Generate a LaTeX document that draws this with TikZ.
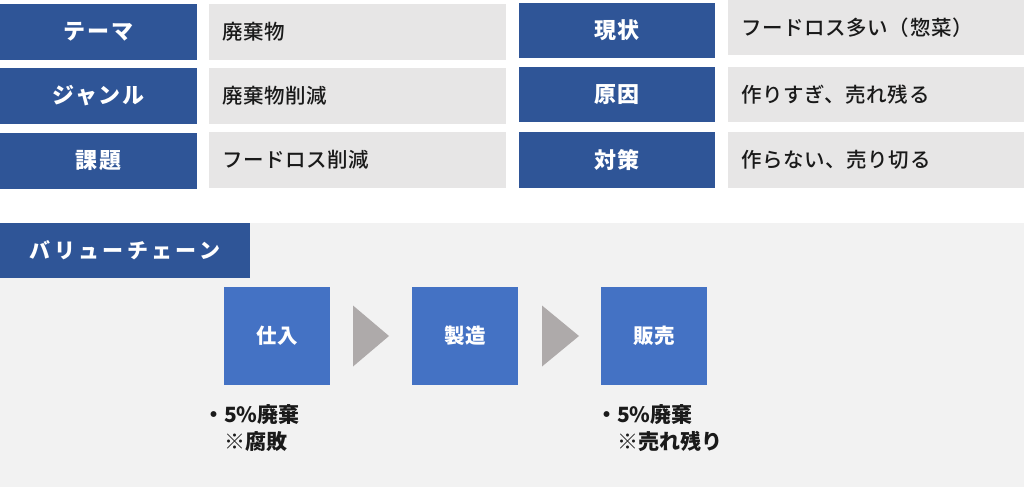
\documentclass[tikz,border=0pt]{standalone}
\usepackage{fontspec}
\setmainfont{Noto Sans CJK JP}
\newfontfamily\medfont{Noto Sans CJK JP}[UprightFont={* Medium}]
\usetikzlibrary{calc}
\definecolor{hdrblue}{HTML}{2F5597}
\definecolor{valgray}{HTML}{E7E6E6}
\definecolor{bggray}{HTML}{F2F2F2}
\definecolor{boxblue}{HTML}{4472C4}
\definecolor{trigray}{HTML}{AEAAAA}
\definecolor{txtblack}{HTML}{1A1A1A}
\tikzset{
  base/.style={inner sep=0pt, outer sep=0pt, anchor=north west},
  hdr/.style={base, fill=hdrblue, text=white, font=\fontsize{22}{26}\selectfont\bfseries\addfontfeature{LetterSpace=8}},
  valbox/.style={base, fill=valgray},
  valtxt/.style={inner sep=0pt, anchor=west, text=txtblack, font=\medfont\fontsize{20.5}{24}\selectfont\addfontfeature{LetterSpace=3}},
  stage/.style={base, fill=boxblue, text=white, minimum width=106pt, minimum height=98pt, font=\fontsize{20.5}{24}\selectfont\bfseries},
  tri/.style={fill=trigray},
  note/.style={inner sep=0pt, anchor=west, align=left, text=txtblack, font=\fontsize{21}{27}\selectfont\bfseries},
}
\begin{document}
\begin{tikzpicture}[x=1pt,y=-1pt]
\useasboundingbox (0,0) rectangle (1024,487);
% top left table
\node[hdr, minimum width=197pt, minimum height=56pt] (h1) at (0,4) {テーマ};
\node[hdr, minimum width=197pt, minimum height=56pt] (h2) at (0,68) {ジャンル};
\node[hdr, minimum width=197pt, minimum height=56pt] (h3) at (0,133) {課題};
\node[valbox, minimum width=297pt, minimum height=56pt] (v1) at (209,4) {};
\node[valbox, minimum width=297pt, minimum height=56pt] (v2) at (209,68) {};
\node[valbox, minimum width=297pt, minimum height=56pt] (v3) at (209,132) {};
\node[valtxt] (t1) at ([xshift=13pt]v1.west) {廃棄物};
\node[valtxt] (t2) at ([xshift=13pt]v2.west) {廃棄物削減};
\node[valtxt] (t3) at ([xshift=13pt]v3.west) {フードロス削減};
% top right table
\node[hdr, minimum width=196pt, minimum height=55pt] (h4) at (519,3) {現状};
\node[hdr, minimum width=196pt, minimum height=55pt] (h5) at (519,67) {原因};
\node[hdr, minimum width=196pt, minimum height=56pt] (h6) at (519,132) {対策};
\node[valbox, minimum width=296pt, minimum height=55pt] (v4) at (728,0) {};
\node[valbox, minimum width=296pt, minimum height=55pt] (v5) at (728,67) {};
\node[valbox, minimum width=296pt, minimum height=56pt] (v6) at (728,132) {};
\node[valtxt] (t4) at ([xshift=13pt]v4.west) {フードロス多い（惣菜）};
\node[valtxt] (t5) at ([xshift=13pt]v5.west) {作りすぎ、売れ残る};
\node[valtxt] (t6) at ([xshift=13pt]v6.west) {作らない、売り切る};
% value chain area
\fill[bggray] (0,223) rectangle (1024,487);
\node[hdr, minimum width=250pt, minimum height=55pt, font=\fontsize{21}{25}\selectfont\bfseries\addfontfeature{LetterSpace=16}] (vc) at (0,223) {バリューチェーン};
\node[stage] (b1) at (224,287) {仕入};
\node[stage] (b2) at (412,287) {製造};
\node[stage] (b3) at (601,287) {販売};
\fill[tri] ($(b1.east)+(23,-30.5)$) -- ($(b1.east)+(59,0)$) -- ($(b1.east)+(23,30.5)$) -- cycle;
\fill[tri] ($(b2.east)+(24,-30.5)$) -- ($(b2.east)+(61,0)$) -- ($(b2.east)+(24,30.5)$) -- cycle;
\node[note] (n1) at (203,428.5) {・5\%廃棄\\\hspace*{1em}※腐敗};
\node[note] (n3) at (596,428.5) {・5\%廃棄\\\hspace*{1em}※売れ残り};
\end{tikzpicture}
\end{document}
